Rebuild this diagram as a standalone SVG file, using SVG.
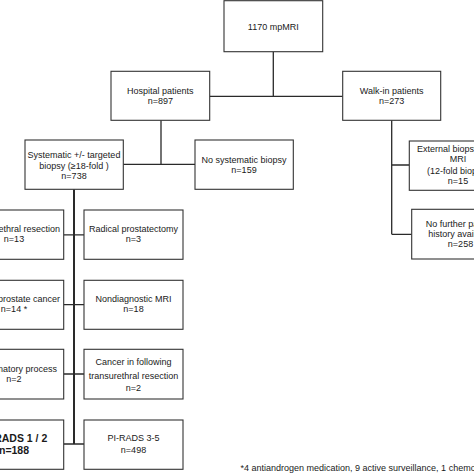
<svg xmlns="http://www.w3.org/2000/svg" width="474" height="474" viewBox="0 0 474 474">
<style>
.box{fill:#fff;stroke:#333;stroke-width:1.1}
.t{font-family:"Liberation Sans",Arial,sans-serif;font-size:9px;fill:#1a1a1a;text-anchor:middle}
.b{font-weight:bold;font-size:10.5px}
.c{stroke:#2a2a2a;stroke-width:1.3;fill:none}
.f{font-family:"Liberation Sans",Arial,sans-serif;font-size:9px;fill:#1a1a1a}
</style>
<rect width="474" height="474" fill="#fff"/>
<g id="connectors">
<path class="c" d="M273.3,51.7V96.3M209.7,96.3H342.7"/>
<path class="c" d="M161,120.3V164.3M123.3,164.3H195"/>
<path class="c" d="M391.7,120.3V234.3M391.7,165H409.3M391.7,234.3H411.7"/>
<path class="c" style="stroke-width:2" d="M74,189.3V444"/>
<path class="c" d="M63.7,234.8H84M63.7,304.7H84M63.7,374H84M63.7,444H84"/>
</g>
<g id="n_top"><rect class="box" x="224" y="0.7" width="98.7" height="51"/><text class="t" x="273.3" y="30">1170 mpMRI</text></g>
<g id="n_hospital"><rect class="box" x="111" y="71.3" width="98.7" height="49"/><text class="t" x="160.3" y="94">Hospital patients</text><text class="t" x="160.3" y="104">n=897</text></g>
<g id="n_walkin"><rect class="box" x="342.7" y="71.3" width="98" height="49"/><text class="t" x="391.7" y="94">Walk-in patients</text><text class="t" x="391.7" y="104">n=273</text></g>
<g id="n_systematic"><rect class="box" x="25" y="140" width="98.3" height="49.3"/><text class="t" x="74" y="158">Systematic +/- targeted</text><text class="t" x="74" y="168.5">biopsy (≥18-fold )</text><text class="t" x="74" y="179">n=738</text></g>
<g id="n_nosys"><rect class="box" x="195" y="140" width="98.3" height="49.3"/><text class="t" x="244" y="163">No systematic biopsy</text><text class="t" x="244" y="173">n=159</text></g>
<g id="n_external"><rect class="box" x="409.3" y="141" width="98" height="49.3"/><text class="t" x="458" y="152.3">External biopsy after</text><text class="t" x="458" y="162">MRI</text><text class="t" x="458" y="174">(12-fold biopsy)</text><text class="t" x="458" y="184">n=15</text></g>
<g id="n_nofurther"><rect class="box" x="411.7" y="209.3" width="98" height="49.7"/><text class="t" x="460.5" y="227">No further patient</text><text class="t" x="460.5" y="236.7">history available</text><text class="t" x="460.5" y="246.5">n=258</text></g>
<g id="n_turp"><rect class="box" x="-35" y="210" width="98.7" height="49.3"/><text class="t" x="14" y="232.3">Transurethral resection</text><text class="t" x="14" y="242.3">n=13</text></g>
<g id="n_rp"><rect class="box" x="84" y="210" width="99" height="49.3"/><text class="t" x="133.5" y="232.3">Radical prostatectomy</text><text class="t" x="133.5" y="242.3">n=3</text></g>
<g id="n_known"><rect class="box" x="-35" y="280.3" width="98.7" height="49"/><text class="t" x="14" y="302.3">Known prostate cancer</text><text class="t" x="14" y="312.3">n=14 *</text></g>
<g id="n_nondiag"><rect class="box" x="84" y="280.3" width="99" height="49"/><text class="t" x="133.5" y="302.3">Nondiagnostic MRI</text><text class="t" x="133.5" y="312.3">n=18</text></g>
<g id="n_inflam"><rect class="box" x="-35" y="349.3" width="98.7" height="49.7"/><text class="t" x="14" y="372">Inflammatory process</text><text class="t" x="14" y="382">n=2</text></g>
<g id="n_cancer"><rect class="box" x="84" y="349.3" width="99" height="49.7"/><text class="t" x="133.5" y="365">Cancer in following</text><text class="t" x="133.5" y="379">transurethral resection</text><text class="t" x="133.5" y="391">n=2</text></g>
<g id="n_pirads12"><rect class="box" x="-35" y="420" width="98.7" height="49.3"/><text class="t b" x="14" y="441.5">PI-RADS 1 / 2</text><text class="t b" x="14" y="454">n=188</text></g>
<g id="n_pirads35"><rect class="box" x="84" y="420" width="99" height="49.3"/><text class="t" x="133.5" y="440.5">PI-RADS 3-5</text><text class="t" x="133.5" y="453">n=498</text></g>
<text class="f" x="240.5" y="470.5">*4 antiandrogen medication, 9 active surveillance, 1 chemotherapy</text>
</svg>
